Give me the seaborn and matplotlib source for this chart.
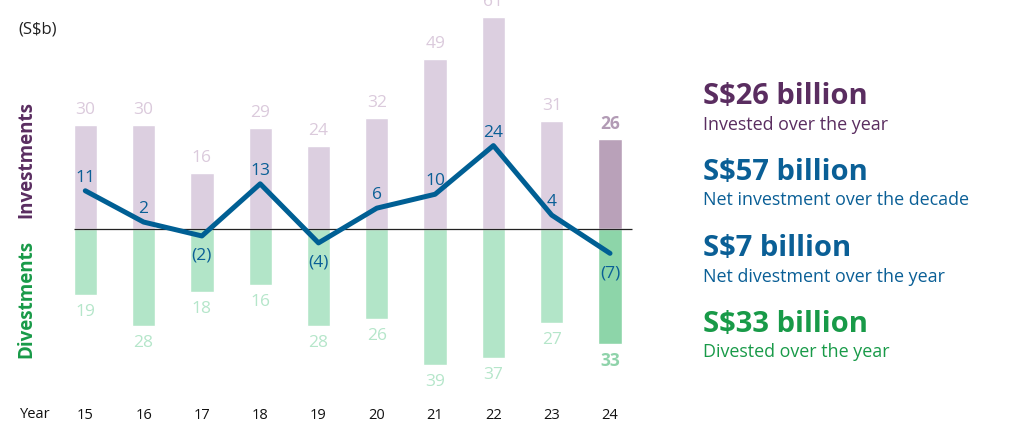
import numpy as np
import pandas as pd
import matplotlib
matplotlib.use("Agg")
import matplotlib.pyplot as plt
import seaborn as sns

# ---- data ----
years = ["15", "16", "17", "18", "19", "20", "21", "22", "23", "24"]
investments = [30, 30, 16, 29, 24, 32, 49, 61, 31, 26]
divestments = [19, 28, 18, 16, 28, 26, 39, 37, 27, 33]
net = [11, 2, -2, 13, -4, 6, 10, 24, 4, -7]

summary_big = ["S$26 billion", "S$57 billion", "S$7 billion", "S$33 billion"]
summary_small = ["Invested over the year", "Net investment over the decade",
                 "Net divestment over the year", "Divested over the year"]

# ---- style ----
sns.set_theme(style="white")
plt.rcParams["font.family"] = ["Open Sans", "DejaVu Sans"]

PURPLE_LIGHT = "#dccfe0"
PURPLE_HI = "#b9a1b9"
GREEN_LIGHT = "#b2e5c8"
GREEN_HI = "#8dd5a9"
PURPLE_LBL = "#dbcadc"
PURPLE_LBL_HI = "#b29bb5"
GREEN_LBL = "#b5e6ca"
GREEN_LBL_HI = "#8fd3aa"
LINE_BLUE = "#005f94"
TXT_PURPLE = "#5a2d60"
TXT_BLUE = "#0a5f96"
TXT_GREEN = "#189a48"

W, H = 1024, 433
fig = plt.figure(figsize=(W / 100, H / 100), dpi=100)

# axes pixel geometry
px_per_x = 58.3
x0_px = 85.3
xmin, xmax = -0.6, 9.6
ax_left = x0_px + xmin * px_per_x
ax_w = (xmax - xmin) * px_per_x
px_per_y = 3.475
base_px = 229
ax_bottom_px = 400
ymax = base_px / px_per_y
ymin = -(ax_bottom_px - base_px) / px_per_y
ax = fig.add_axes([ax_left / W, (H - ax_bottom_px) / H, ax_w / W, ax_bottom_px / H])

n = len(years)
last = years[-1]
df = pd.DataFrame({"year": years, "inv": investments,
                   "div": [-d for d in divestments], "net": net})

inv_pal = {y: (PURPLE_HI if y == last else PURPLE_LIGHT) for y in years}
div_pal = {y: (GREEN_HI if y == last else GREEN_LIGHT) for y in years}

sns.barplot(data=df, x="year", y="inv", hue="year", palette=inv_pal,
            order=years, width=0.4, legend=False, ax=ax, saturation=1)
sns.barplot(data=df, x="year", y="div", hue="year", palette=div_pal,
            order=years, width=0.4, legend=False, ax=ax, saturation=1)

ax.hlines(0, -0.2, 9.37, color="#222222", lw=0.9, zorder=3)

sns.lineplot(x=np.arange(n), y=df["net"], color=LINE_BLUE, lw=3.6, ax=ax,
             zorder=4)

# labels on bars
for i, (iv, dv) in enumerate(zip(investments, divestments)):
    hi = years[i] == last
    ax.annotate(str(iv), (i, iv), xytext=(0, 15 * 0.72), textcoords="offset points",
                ha="center", va="center", fontsize=12.5,
                color=PURPLE_LBL_HI if hi else PURPLE_LBL,
                fontweight="bold" if hi else "normal", annotation_clip=False)
    ax.annotate(str(dv), (i, -dv), xytext=(0, -17 * 0.72), textcoords="offset points",
                ha="center", va="center", fontsize=12.5,
                color=GREEN_LBL_HI if hi else GREEN_LBL,
                fontweight="bold" if hi else "normal", annotation_clip=False)

# labels on line
for i, v in enumerate(net):
    txt = str(v) if v >= 0 else f"({-v})"
    dy = 13 if v >= 0 else -20
    ax.annotate(txt, (i, v), xytext=(0, dy * 0.72), textcoords="offset points",
                ha="center", va="center", fontsize=12.5, color=TXT_BLUE, zorder=5)

ax.set_xlim(xmin, xmax)
ax.set_ylim(ymin, ymax)
ax.set_yticks([])
ax.set_xlabel("")
ax.set_ylabel("")
ax.tick_params(axis="x", length=0, pad=6, labelsize=10.5, labelcolor="#111111")
for s in ax.spines.values():
    s.set_visible(False)
ax.patch.set_alpha(0)

# left side texts
fig.text(35 / W, 1 - 414 / H, "Year", ha="center", va="center", fontsize=10.5, color="#111111")
fig.text(38 / W, 1 - 30 / H, "(S$b)", ha="center", va="center", fontsize=12, color="#222222")
fig.text(26 / W, 1 - 160 / H, "Investments", ha="center", va="center", rotation=90,
         fontsize=13.5, fontweight="bold", color=TXT_PURPLE)
fig.text(26 / W, 1 - 299 / H, "Divestments", ha="center", va="center", rotation=90,
         fontsize=13.5, fontweight="bold", color=TXT_GREEN)

# right side summary
colors = [TXT_PURPLE, TXT_BLUE, TXT_BLUE, TXT_GREEN]
big_y = [96, 173, 249, 325]
small_y = [125, 200, 277, 352]
for b, s, c, by, sy in zip(summary_big, summary_small, colors, big_y, small_y):
    fig.text(703 / W, 1 - by / H, b, ha="left", va="center", fontsize=21,
             fontweight="bold", color=c)
    fig.text(703 / W, 1 - sy / H, s, ha="left", va="center", fontsize=12.9, color=c)

fig.savefig("out.png", dpi=100)
